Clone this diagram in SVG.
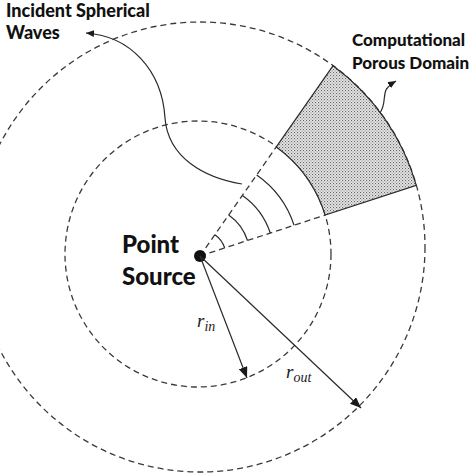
<svg xmlns="http://www.w3.org/2000/svg" width="474" height="474" viewBox="0 0 474 474">
<style>
.dash{fill:none;stroke:#3a3a3a;stroke-width:1.3;stroke-dasharray:6 4}
.solid{fill:none;stroke:#2a2a2a;stroke-width:1.2}
.lbl{font-family:Lato,"Open Sans","Liberation Sans",sans-serif;font-weight:900;fill:#111}
.math{font-family:"Liberation Serif","DejaVu Serif",serif;font-style:italic;fill:#222}
</style>
<defs>
<pattern id="dots" width="3" height="3" patternUnits="userSpaceOnUse">
<rect width="3" height="3" fill="#e6e6e6"/>
<rect x="0" y="0" width="1.1" height="1.1" fill="#666"/>
<rect x="1.5" y="1.5" width="1.1" height="1.1" fill="#888"/>
</pattern>
<marker id="ah" markerUnits="userSpaceOnUse" markerWidth="11" markerHeight="9" refX="11" refY="4.5" orient="auto">
<path d="M0,0 L11,4.5 L0,9 z" fill="#1a1a1a"/>
</marker>
<marker id="ahs" markerUnits="userSpaceOnUse" markerWidth="8" markerHeight="7" refX="8" refY="3.5" orient="auto">
<path d="M0,0 L8,3.5 L0,7 z" fill="#1a1a1a"/>
</marker>
</defs>
<rect width="474" height="474" fill="#fff"/>
<g id="circles">
<circle class="dash" cx="200" cy="247" r="225"/>
<circle class="dash" cx="198" cy="254" r="133"/>
</g>
<g id="domain">
<path d="M276.3,146.9 L333.1,65.7 A225,225 0 0 1 416.3,185.3 L325.2,215.1 A133,133 0 0 0 276.3,146.9 z" fill="url(#dots)" stroke="#2a2a2a" stroke-width="1.2"/>
</g>
<g id="rays">
<line class="dash" x1="200" y1="256" x2="276.3" y2="146.9"/>
<line class="dash" x1="200" y1="256" x2="325.2" y2="215.1"/>
</g>
<g id="waves">
<path class="solid" d="M214.9,234.7 A26,26 0 0 1 224.7,247.9"/>
<path class="solid" d="M228.7,215.0 A50,50 0 0 1 247.5,240.5"/>
<path class="solid" d="M242.4,195.4 A74,74 0 0 1 270.3,233.0"/>
<path class="solid" d="M256.7,174.9 A99,99 0 0 1 294.1,225.2"/>
</g>
<g id="source">
<circle cx="200" cy="256" r="6" fill="#111"/>
<text class="lbl" x="122" y="253" font-size="24">Point</text>
<text class="lbl" x="122" y="285" font-size="24">Source</text>
</g>
<g id="labels">
<text class="lbl" x="6" y="17" font-size="18">Incident Spherical</text>
<text class="lbl" x="6" y="39" font-size="18">Waves</text>
<text class="lbl" x="352" y="46" font-size="17">Computational</text>
<text class="lbl" x="352" y="69" font-size="17">Porous Domain</text>
<text class="math" x="197" y="327" font-size="19">r<tspan font-size="14" dy="4">in</tspan></text>
<text class="math" x="286" y="378" font-size="19">r<tspan font-size="14" dy="4">out</tspan></text>
</g>
<g id="connectors">
<line class="solid" x1="200" y1="256" x2="247" y2="378" marker-end="url(#ah)"/>
<line class="solid" x1="200" y1="256" x2="361" y2="408" marker-end="url(#ah)"/>
<path class="solid" d="M242,184 C205,178 168,158 165,118 C162,70 130,36 86,33" marker-end="url(#ahs)"/>
<path class="solid" d="M380,113 C386,104 383,96 386,90 C388,86 391,84 396,81" marker-end="url(#ahs)"/>
</g>
</svg>
